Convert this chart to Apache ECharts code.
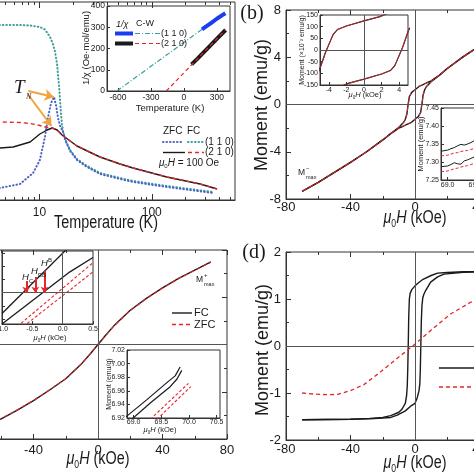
<!DOCTYPE html>
<html>
<head>
<meta charset="utf-8">
<script src="https://cdn.jsdelivr.net/npm/echarts@6/dist/echarts.min.js"></script>
<style>
  html, body { margin: 0; padding: 0; background: #fff; }
  #chart { width: 474px; height: 474px; }
</style>
</head>
<body>
<div id="chart"></div>
<script>
// ---------- (a) 磁化率-温度 (对数温度轴, 纵轴任意单位) ----------
const aFc110T  = [2, 4.47, 6.73, 8.27, 10.1, 11.2, 12.45, 13.2, 13.8, 14.4, 14.65, 15.0, 15.3, 15.6, 15.9, 16.25, 16.95, 18.75, 21.6, 26.6, 34.6, 52.2, 68.2, 136, 350];
const aFc110V  = [175, 175, 175, 174.5, 173, 170.5, 163, 156, 148, 135, 125, 112, 98, 85, 75, 69, 61, 50, 41, 34, 27, 22, 19, 14, 8];
const aZfc110T = [2, 4.47, 6.73, 8.79, 10.1, 11.2, 11.95, 12.7, 13.5, 14.1, 14.65, 15.3, 16.25, 16.95, 18.75, 21.6, 26.6, 34.6, 52.2, 68.2, 136, 350];
const aZfc110V = [11, 12, 16, 27, 40, 63, 83, 97, 103, 94, 82, 74, 68, 60, 49, 40, 33, 26, 21, 18, 13, 7];
const aZfc210T = [2, 4.47, 5.84, 8.27, 10.1, 11.7, 13.0, 14.4, 15.9, 21.6, 34.6, 52.2, 68.2, 136, 269, 381];
const aZfc210V = [52, 52, 53, 58, 66, 70, 72, 70, 65, 54, 43, 36, 32, 23, 16, 11];
const aFc210T  = [2, 4.47, 6.73, 8.27, 10.1, 11.7, 13.0, 14.4, 15.9, 21.6, 34.6, 52.2, 68.2, 136, 269, 381];
const aFc210V  = [78, 78, 77.5, 76.5, 74.5, 72.5, 72, 70, 65, 54, 43, 36, 32, 23, 16, 11];
const aMajorT  = [10, 100];
const aMinorT  = [2, 3, 4, 5, 6, 7, 8, 9, 20, 30, 40, 50, 60, 70, 80, 90, 200, 300, 400, 500];
// (a) 插图: 1/χ 与居里-外斯拟合
const aiBlueT  = [165, 200, 250, 300, 350, 378];
const aiBlueV  = [290, 303, 321, 340, 357, 366];
const aiTealT  = [-610, 165];
const aiTealV  = [0, 290];
const aiBlackT = [70, 120, 200, 300, 380];
const aiBlackV = [125, 150, 192, 245, 287];
const aiRedT   = [-160, 380];
const aiRedV   = [0, 288];
const aiTicksX = [-600, -300, 0, 300];

// ---------- (b) 磁滞回线 ----------
const bUpH = [70, 60, 50, 40, 30, 20, 15, 10, 7, 5, 2.5, 2, 0, -2, -3, -3.5, -4, -4.4, -5, -6, -7, -10, -15, -20, -30, -40, -50, -60, -70];
const bUpM = [7.35, 6.65, 5.8, 4.95, 4.05, 3.05, 2.47, 2.0, 1.82, 1.68, 1.53, 1.43, 1.25, 1.03, 0.88, 0.67, 0.23, -0.13, -0.78, -1.25, -1.5, -1.92, -2.45, -3.0, -4.0, -4.9, -5.75, -6.6, -7.35];
const bDnH = [-70, -60, -50, -40, -30, -20, -15, -10, -7, -5, -2.5, -2, 0, 2, 3, 3.5, 4, 4.4, 5, 6, 7, 10, 15, 20, 30, 40, 50, 60, 70];
const bDnM = [-7.35, -6.6, -5.75, -4.9, -4.0, -3.0, -2.47, -2.0, -1.82, -1.68, -1.54, -1.45, -1.25, -1.03, -0.88, -0.67, -0.23, 0.13, 0.78, 1.25, 1.5, 1.92, 2.45, 3.05, 4.05, 4.95, 5.8, 6.65, 7.35];
// (b) 左上插图 (×10^-2 emu/g)
const b1UpH = [-5.2, -5, -4.4, -4, -3.5, -3, -2, 0, 1.8, 2.5, 3];
const b1UpM = [-95, -78, -13, 23, 67, 88, 103, 125, 143, 154, 160];
const b1DnH = [-3, -2.5, -1.8, 0, 2, 3, 3.5, 4, 4.4, 5, 5.2];
const b1DnM = [-160, -154, -143, -125, -103, -88, -67, -23, 13, 78, 95];
const b1TicksX = [-4, -2, 0, 2, 4];
// (b) 右侧插图 (高场端)
const b2H     = [68.88, 69.0, 69.06, 69.12, 69.18, 69.24, 69.3, 69.36, 69.42, 69.48, 69.54, 69.6];
const b2BkUpM = [7.330, 7.333, 7.337, 7.340, 7.345, 7.349, 7.347, 7.350, 7.354, 7.359, 7.360, 7.362];
const b2BkLoM = [7.287, 7.289, 7.293, 7.298, 7.295, 7.294, 7.303, 7.306, 7.310, 7.314, 7.321, 7.324];
const b2RdUpM = [7.317, 7.319, 7.322, 7.325, 7.326, 7.329, 7.331, 7.332, 7.335, 7.337, 7.338, 7.341];
const b2RdLoM = [7.273, 7.275, 7.278, 7.281, 7.283, 7.286, 7.288, 7.290, 7.293, 7.296, 7.298, 7.301];
const b2TicksX = [69.0, 69.5, 70.0, 70.5];
const b2TicksY = [7.25, 7.30, 7.35, 7.40, 7.45];

// ---------- (c) FC / ZFC ----------
const cH    = [-70, -60, -50, -40, -30, -20, -10, -5, 0, 5, 10, 20, 30, 40, 50, 60, 70];
const cFcM  = [-6.99, -6.3, -5.55, -4.75, -3.85, -2.9, -1.6, -0.82, 0, 0.82, 1.6, 2.9, 3.9, 4.8, 5.6, 6.3, 6.99];
const cZfcM = [-6.97, -6.28, -5.53, -4.73, -3.84, -2.89, -1.6, -0.82, -0.01, 0.8, 1.58, 2.88, 3.88, 4.78, 5.58, 6.28, 6.96];
// (c) 左上插图 (低场)
const c1BkAH = [-1.0, 0.08];       const c1BkAM = [-0.08, 0.17];
const c1BkBH = [-1.0, 0.12, 0.5];  const c1BkBM = [-0.12, 0.08, 0.135];
const c1RdAH = [-0.75, 0.5];       const c1RdAM = [-0.13, 0.115];
const c1RdBH = [-0.65, 0.5];       const c1RdBM = [-0.13, 0.08];
const c1ArrowH = [-0.6, -0.45, -0.3];
const c1ArrowTail = [0.045, 0.06, 0.085];
const c1TicksX = [-1.0, -0.5, 0.0, 0.5];
// (c) 右下插图 (高场)
const c2BkAH = [68.85, 68.91, 69.24, 69.6, 69.75, 69.84];  const c2BkAM = [6.921, 6.925, 6.947, 6.972, 6.982, 6.995];
const c2BkBH = [68.95, 69.3, 69.66, 69.78, 69.87];         const c2BkBM = [6.917, 6.942, 6.966, 6.977, 6.99];
const c2RdAH = [69.3, 69.99];                              const c2RdAM = [6.918, 6.971];
const c2RdBH = [69.42, 70.03];                             const c2RdBM = [6.918, 6.966];
const c2TicksY = [6.92, 6.94, 6.96, 6.98, 7.00, 7.02];

// ---------- (d) ----------
const dUpH = [70, 50, 30, 20, 14, 10, 5, 2, 0, -2, -3, -3.5, -3.9, -4.2, -4.5, -4.8, -5.2, -6, -8, -10, -15, -20, -28, -40, -55, -70];
const dUpM = [1.59, 1.585, 1.58, 1.565, 1.55, 1.5, 1.42, 1.34, 1.28, 1.2, 1.12, 1.0, 0.6, 0.0, -0.5, -0.85, -1.05, -1.22, -1.34, -1.41, -1.48, -1.52, -1.54, -1.56, -1.565, -1.57];
const dDnH = [-70, -55, -40, -28, -15, -11, -6, -2.7, 0, 1.4, 2.5, 3.0, 3.3, 3.6, 3.9, 4.3, 4.8, 5.5, 6.6, 9.7, 14, 18, 30, 48, 70];
const dDnM = [-1.57, -1.565, -1.56, -1.55, -1.52, -1.47, -1.38, -1.28, -1.22, -1.1, -0.95, -0.8, -0.5, 0.0, 0.5, 0.85, 1.02, 1.1, 1.18, 1.36, 1.47, 1.53, 1.57, 1.585, 1.59];
const dRedH = [-70, -62, -55, -48, -40, -31.6, -21.3, -11, 0, 9.7, 22, 34.5, 45, 55, 62, 70];
const dRedM = [-1.0, -1.025, -1.035, -1.03, -0.95, -0.82, -0.55, -0.26, 0.04, 0.33, 0.68, 0.93, 1.02, 1.04, 1.03, 1.02];

// ---------- 样式 ----------
const SANS = 'Liberation Sans';
const SERIF = 'Liberation Serif';
const INK = '#1a1a1a';
const RED = '#e3262b';
const TEAL = '#3a9c9c';
const BLUE = '#4a62c8';
const BLUE2 = '#1c3cf2';
const ORANGE = '#f2a23c';
const ZERO = '#555';
const DOT = [0.5, 3];
const DASH = [4, 3];
const DASHDOT = [5, 2, 1, 2];

function zip(xs, ys) { return xs.map((x, i) => [x, ys[i]]); }
function merge(a, b) {
    const out = Object.assign({}, a);
    for (const k in b) {
        const v = b[k];
        if (v && typeof v === 'object' && !Array.isArray(v) && a[k] && typeof a[k] === 'object' && !Array.isArray(a[k])) {
            out[k] = merge(a[k], v);
        } else {
            out[k] = v;
        }
    }
    return out;
}

const grids = [], xAxes = [], yAxes = [], series = [], gfx = [];

function addGrid(rect) {
    grids.push(merge({ show: true, borderColor: '#333', borderWidth: 1, backgroundColor: 'transparent', containLabel: false, outerBoundsMode: 'none' }, rect));
    return grids.length - 1;
}
function mkAxis(gridIndex, position, type, min, max, o) {
    const base = {
        gridIndex, position, type, min, max, silent: true,
        axisLine: { show: true, onZero: false, lineStyle: { color: '#333', width: 1 } },
        axisTick: { show: true, inside: true, length: 5, lineStyle: { color: '#333', width: 1 } },
        minorTick: { show: false },
        axisLabel: { show: true, color: INK, fontSize: 12, fontFamily: SANS, margin: 4 },
        splitLine: { show: false },
        axisPointer: { show: false }
    };
    return merge(base, o || {});
}
function pushX(a) { xAxes.push(a); return xAxes.length - 1; }
function pushY(a) { yAxes.push(a); return yAxes.length - 1; }

function addLine(p, xs, ys, color, width, dash, extra) {
    series.push(merge({
        type: 'line', xAxisIndex: p.x, yAxisIndex: p.y, data: zip(xs, ys),
        showSymbol: false, symbol: 'none', silent: true, animation: false, clip: true,
        lineStyle: { color, width, type: dash || 'solid', cap: dash === DOT ? 'round' : 'butt' },
        emphasis: { disabled: true }
    }, extra || {}));
    return series[series.length - 1];
}
function zeroLines(s) {
    s.markLine = {
        silent: true, symbol: 'none', animation: false, label: { show: false },
        lineStyle: { color: ZERO, width: 1, type: 'solid' }, emphasis: { disabled: true },
        data: [{ xAxis: 0 }, { yAxis: 0 }]
    };
}
function txt(x, y, text, font, o) {
    return merge({
        type: 'text', x, y, silent: true, z: 100,
        style: { text, font, fill: INK, align: 'left', verticalAlign: 'middle', textAlign: 'left', textVerticalAlign: 'middle' }
    }, o || {});
}
function ctxt(x, y, text, font, o) {
    return txt(x, y, text, font, merge({ style: { align: 'center', textAlign: 'center' } }, o || {}));
}
function seg(x1, y1, x2, y2, color, width, dash) {
    return { type: 'line', silent: true, z: 100, shape: { x1, y1, x2, y2 },
        style: { stroke: color, lineWidth: width, lineDash: dash || null, lineCap: dash === DOT ? 'round' : 'butt' } };
}
// μ0H 富文本
function muH(size, tail) {
    const t = { fontSize: size, fontFamily: SANS, lineHeight: size, verticalAlign: 'top', fill: INK, color: INK };
    return {
        text: '{i|μ}{s|0}{i|H}{n|' + tail + '}',
        rich: {
            i: merge(t, { fontStyle: 'italic' }),
            n: t,
            s: merge(t, { fontSize: size * 0.6, lineHeight: size * 0.6, padding: [size * 0.55, 0, 0, 0] })
        }
    };
}
function richTxt(x, y, r, o) {
    return merge({ type: 'text', x, y, silent: true, z: 100,
        style: { text: r.text, rich: r.rich, align: 'center', verticalAlign: 'middle', textAlign: 'center', textVerticalAlign: 'middle' } }, o || {});
}

// ================= (a) 主图 =================
const gA = addGrid({ left: -73, top: 2, width: 308, height: 198 });
const pA = {
    x: pushX(mkAxis(gA, 'bottom', 'log', 1, 550, { logBase: 10, axisTick: { customValues: aMajorT, length: 6 }, axisLabel: { customValues: aMajorT, margin: 7 } })),
    y: pushY(mkAxis(gA, 'left', 'value', 0, 198, { show: false }))
};
pushX(mkAxis(gA, 'top', 'log', 1, 550, { logBase: 10, axisLine: { show: false }, axisTick: { customValues: aMajorT, length: 6 }, axisLabel: { show: false } }));
const gA2 = addGrid({ left: -73, top: 2, width: 308, height: 198, show: false });
pushX(mkAxis(gA2, 'bottom', 'log', 1, 550, { logBase: 10, axisLine: { show: false }, axisTick: { customValues: aMinorT, length: 3 }, axisLabel: { show: false } }));
pushX(mkAxis(gA2, 'top', 'log', 1, 550, { logBase: 10, axisLine: { show: false }, axisTick: { customValues: aMinorT, length: 3 }, axisLabel: { show: false } }));
pushY(mkAxis(gA2, 'left', 'value', 0, 1, { show: false }));

addLine(pA, aFc110T, aFc110V, TEAL, 2, DOT);
addLine(pA, aZfc110T, aZfc110V, BLUE, 2, DOT);
addLine(pA, aZfc210T, aZfc210V, INK, 1.4);
const aRed = addLine(pA, aFc210T, aFc210V, RED, 1.4, DASH);
aRed.markLine = {
    silent: true, symbol: ['none', 'arrow'], symbolSize: 9, animation: false, label: { show: false },
    lineStyle: { color: ORANGE, width: 2, type: 'solid' }, emphasis: { disabled: true },
    data: [
        [{ coord: [7.98, 109] }, { coord: [13.4, 103] }],
        [{ coord: [7.98, 105] }, { coord: [12.8, 74] }]
    ]
};

// (a) 插图
const gAi = addGrid({ left: 107, top: 6, width: 123, height: 85, backgroundColor: '#fff' });
const pAi = {
    x: pushX(mkAxis(gAi, 'bottom', 'value', -700, 420, { axisTick: { customValues: aiTicksX, length: 3 }, axisLabel: { customValues: aiTicksX, fontSize: 8.5, margin: 2 } })),
    y: pushY(mkAxis(gAi, 'left', 'value', 0, 400, { interval: 100, axisTick: { length: 3 }, axisLabel: { fontSize: 8.5, margin: 2 } }))
};
addLine(pAi, aiTealT, aiTealV, TEAL, 1.2, DASHDOT);
addLine(pAi, aiBlueT, aiBlueV, BLUE2, 4);
addLine(pAi, aiBlackT, aiBlackV, INK, 4);
addLine(pAi, aiRedT, aiRedV, RED, 1.2, DASH);

// ================= (b) =================
const gB = addGrid({ left: 286, top: 10, width: 258, height: 189 });
const pB = {
    x: pushX(mkAxis(gB, 'bottom', 'value', -80, 80, { interval: 40, minorTick: { show: true, splitNumber: 2, length: 3 }, axisLabel: { fontSize: 13, margin: 2 } })),
    y: pushY(mkAxis(gB, 'left', 'value', -8, 8, { interval: 4, minorTick: { show: true, splitNumber: 2, length: 3 }, axisLabel: { fontSize: 13, margin: 5 } }))
};
pushX(mkAxis(gB, 'top', 'value', -80, 80, { interval: 40, axisLine: { show: false }, axisLabel: { show: false }, minorTick: { show: true, splitNumber: 2, length: 3 } }));
zeroLines(addLine(pB, bUpH, bUpM, INK, 1.4));
addLine(pB, bDnH, bDnM, INK, 1.4);
addLine(pB, bUpH, bUpM, RED, 1, DASH);
addLine(pB, bDnH, bDnM, RED, 1, DASH);

const gB1 = addGrid({ left: 320, top: 15, width: 88, height: 70, backgroundColor: '#fff' });
const pB1 = {
    x: pushX(mkAxis(gB1, 'bottom', 'value', -5, 5, { axisTick: { customValues: b1TicksX, length: 3 }, axisLabel: { customValues: b1TicksX, fontSize: 7, margin: 2 } })),
    y: pushY(mkAxis(gB1, 'left', 'value', -150, 150, { interval: 50, axisTick: { length: 3 }, axisLabel: { fontSize: 7, margin: 2 } }))
};
zeroLines(addLine(pB1, b1UpH, b1UpM, INK, 1.2));
addLine(pB1, b1DnH, b1DnM, INK, 1.2);
addLine(pB1, b1UpH, b1UpM, '#c0282c', 0.9);
addLine(pB1, b1DnH, b1DnM, '#c0282c', 0.9);

const gB2 = addGrid({ left: 441, top: 108, width: 93, height: 72, backgroundColor: '#fff' });
const pB2 = {
    x: pushX(mkAxis(gB2, 'bottom', 'value', 68.88, 70.56, { axisTick: { customValues: b2TicksX, length: 3 }, axisLabel: { customValues: b2TicksX, fontSize: 7, margin: 2, formatter: v => (+v).toFixed(1) } })),
    y: pushY(mkAxis(gB2, 'left', 'value', 7.25, 7.45, { axisTick: { customValues: b2TicksY, length: 3 }, axisLabel: { customValues: b2TicksY, fontSize: 7, margin: 2, formatter: v => (+v).toFixed(2) } }))
};
addLine(pB2, b2H, b2BkUpM, INK, 1);
addLine(pB2, b2H, b2BkLoM, INK, 1);
addLine(pB2, b2H, b2RdUpM, RED, 1, [3, 2]);
addLine(pB2, b2H, b2RdLoM, RED, 1, [3, 2]);

// ================= (c) =================
const gC = addGrid({ left: -31, top: 250, width: 258, height: 189 });
const pC = {
    x: pushX(mkAxis(gC, 'bottom', 'value', -80, 80, { interval: 40, minorTick: { show: true, splitNumber: 2, length: 3 }, axisLabel: { fontSize: 13, margin: 5 } })),
    y: pushY(mkAxis(gC, 'left', 'value', -8, 8, { interval: 4, minorTick: { show: true, splitNumber: 2, length: 3 }, axisLabel: { fontSize: 13 } }))
};
pushX(mkAxis(gC, 'top', 'value', -80, 80, { interval: 40, axisLine: { show: false }, axisLabel: { show: false }, minorTick: { show: true, splitNumber: 2, length: 3 } }));
pushY(mkAxis(gC, 'right', 'value', -8, 8, { interval: 4, axisLine: { show: false }, axisLabel: { show: false }, minorTick: { show: true, splitNumber: 2, length: 3 } }));
zeroLines(addLine(pC, cH, cFcM, INK, 1.4));
addLine(pC, cH, cZfcM, RED, 1.2, DASH);

const gC1 = addGrid({ left: 2, top: 251, width: 91, height: 73, backgroundColor: '#fff' });
const pC1 = {
    x: pushX(mkAxis(gC1, 'bottom', 'value', -1, 0.5, { axisTick: { customValues: c1TicksX, length: 3 }, axisLabel: { customValues: c1TicksX, fontSize: 7, margin: 2, formatter: v => (+v).toFixed(1) } })),
    y: pushY(mkAxis(gC1, 'left', 'value', -0.12, 0.16, { axisTick: { customValues: [-0.1, -0.05, 0, 0.05, 0.1, 0.15], length: 3 }, axisLabel: { show: false } }))
};
zeroLines(addLine(pC1, c1BkAH, c1BkAM, INK, 1.3));
addLine(pC1, c1BkBH, c1BkBM, INK, 1.3);
addLine(pC1, c1RdAH, c1RdAM, RED, 1.1, [3, 2]);
const c1r = addLine(pC1, c1RdBH, c1RdBM, RED, 1.1, [3, 2]);
c1r.markLine = {
    silent: true, symbol: ['none', 'arrow'], symbolSize: 6, animation: false, label: { show: false },
    lineStyle: { color: RED, width: 2, type: 'solid' }, emphasis: { disabled: true },
    data: c1ArrowH.map((h, i) => [{ coord: [h, c1ArrowTail[i]] }, { coord: [h, 0] }])
};

const gC2 = addGrid({ left: 127, top: 350, width: 93, height: 68, backgroundColor: '#fff' });
const pC2 = {
    x: pushX(mkAxis(gC2, 'bottom', 'value', 68.88, 70.56, { axisTick: { customValues: b2TicksX, length: 3 }, axisLabel: { customValues: b2TicksX, fontSize: 7, margin: 1, formatter: v => (+v).toFixed(1) } })),
    y: pushY(mkAxis(gC2, 'left', 'value', 6.92, 7.02, { axisTick: { customValues: c2TicksY, length: 3 }, axisLabel: { customValues: c2TicksY, fontSize: 7, margin: 2, formatter: v => (+v).toFixed(2) } }))
};
addLine(pC2, c2BkAH, c2BkAM, INK, 1.2);
addLine(pC2, c2BkBH, c2BkBM, INK, 1.2);
addLine(pC2, c2RdAH, c2RdAM, RED, 1.1, [3, 2]);
addLine(pC2, c2RdBH, c2RdBM, RED, 1.1, [3, 2]);

// ================= (d) =================
const gD = addGrid({ left: 286, top: 252, width: 258, height: 188 });
const pD = {
    x: pushX(mkAxis(gD, 'bottom', 'value', -80, 80, { interval: 40, minorTick: { show: true, splitNumber: 2, length: 3 }, axisLabel: { fontSize: 13, margin: 3 } })),
    y: pushY(mkAxis(gD, 'left', 'value', -2, 2, { interval: 1, minorTick: { show: true, splitNumber: 2, length: 3 }, axisLabel: { fontSize: 13, margin: 5 } }))
};
pushX(mkAxis(gD, 'top', 'value', -80, 80, { interval: 40, axisLine: { show: false }, axisLabel: { show: false }, minorTick: { show: true, splitNumber: 2, length: 3 } }));
zeroLines(addLine(pD, dUpH, dUpM, INK, 1.4));
addLine(pD, dDnH, dDnM, INK, 1.4);
addLine(pD, dRedH, dRedM, RED, 1.3, DASH);

// ================= 文字与图例 =================
const F = (size, style, fam) => (style ? style + ' ' : '') + size + 'px "' + (fam || SANS) + '"';
// (a)
gfx.push(ctxt(106, 223, 'Temperature (K)', F(18), { scaleX: 0.8 }));
gfx.push(txt(14, 88, 'T', F(19, 'italic', SERIF)));
gfx.push(txt(26, 97, 'N', F(8, 'italic', SERIF)));
gfx.push(txt(163, 131, 'ZFC', F(10)));
gfx.push(txt(187, 131, 'FC', F(10)));
gfx.push(seg(163, 142, 184, 142, BLUE, 2, DOT));
gfx.push(seg(188, 142, 204, 142, TEAL, 2, DOT));
gfx.push(txt(205, 142, '(1 1 0)', F(10)));
gfx.push(seg(163, 152.5, 185, 152.5, INK, 1.4));
gfx.push(seg(188, 152.5, 204, 152.5, RED, 1.4, DASH));
gfx.push(txt(205, 152.5, '(2 1 0)', F(10)));
gfx.push(richTxt(189, 163, muH(10, ' = 100 Oe')));
// (a) 插图
gfx.push(ctxt(170, 108, 'Temperature (K)', F(9.5)));
gfx.push(ctxt(86, 48, '1/χ (Oe·mol/emu)', F(9.5), { rotation: Math.PI / 2 }));
gfx.push(txt(116, 24, '1/χ', F(9, 'italic')));
gfx.push(txt(136, 24, 'C-W', F(9)));
gfx.push(seg(115, 33.5, 133, 33.5, BLUE2, 4));
gfx.push(seg(135, 33.5, 160, 33.5, TEAL, 1.2, DASHDOT));
gfx.push(txt(161, 33.5, '(1 1 0)', F(9)));
gfx.push(seg(115, 43.5, 133, 43.5, INK, 4));
gfx.push(seg(135, 43.5, 160, 43.5, RED, 1.2, DASH));
gfx.push(txt(161, 43.5, '(2 1 0)', F(9)));
// (b)
gfx.push(ctxt(252, 14, '(b)', F(20, '', SERIF)));
gfx.push(ctxt(262, 105, 'Moment (emu/g)', F(18), { rotation: Math.PI / 2 }));
gfx.push(richTxt(415, 218, muH(18, ' (kOe)'), { scaleX: 0.8 }));
gfx.push(txt(298, 173, 'M', F(8.5)));
gfx.push(txt(306, 177, 'max', F(5.5)));
gfx.push(txt(306, 168, '−', F(6)));
gfx.push(ctxt(302, 50, 'Moment (×10⁻² emu/g)', F(7), { rotation: Math.PI / 2 }));
gfx.push(richTxt(365, 95, muH(7.5, ' (kOe)')));
gfx.push(ctxt(421, 144, 'Moment (emu/g)', F(7.5), { rotation: Math.PI / 2 }));
// (c)
gfx.push(richTxt(98, 459, muH(18, ' (kOe)'), { scaleX: 0.8 }));
gfx.push(txt(196, 280, 'M', F(8.5)));
gfx.push(txt(204, 284, 'max', F(5.5)));
gfx.push(txt(204, 275, '+', F(6)));
gfx.push(seg(172, 313, 192, 313, INK, 1.4));
gfx.push(txt(194, 313, 'FC', F(11)));
gfx.push(seg(172, 324.5, 192, 324.5, RED, 1.3, DASH));
gfx.push(txt(194, 324.5, 'ZFC', F(11)));
gfx.push(richTxt(50, 338, muH(7.5, ' (kOe)')));
gfx.push(txt(22, 277, 'H', F(9.5, 'italic')));
gfx.push(txt(29, 281, 'C', F(6)));
gfx.push(txt(31, 271, 'H', F(9.5, 'italic')));
gfx.push(txt(38, 275, 'EB', F(6)));
gfx.push(txt(41, 263, 'H', F(9.5, 'italic')));
gfx.push(txt(48, 260, 'B', F(6)));
gfx.push(ctxt(109, 384, 'Moment (emu/g)', F(7), { rotation: Math.PI / 2 }));
gfx.push(richTxt(160, 430, muH(7.5, ' (kOe)')));
// (d)
gfx.push(ctxt(254, 253, '(d)', F(20, '', SERIF)));
gfx.push(ctxt(263, 350, 'Moment (emu/g)', F(18), { rotation: Math.PI / 2 }));
gfx.push(richTxt(415, 463, muH(18, ' (kOe)'), { scaleX: 0.8 }));
gfx.push(seg(439, 368, 480, 368, INK, 1.4));
gfx.push(seg(439, 387, 480, 387, RED, 1.3, DASH));

const option = {
    animation: false,
    backgroundColor: '#fff',
    tooltip: { show: false },
    grid: grids,
    xAxis: xAxes,
    yAxis: yAxes,
    series: series,
    graphic: { elements: gfx }
};

const chart = echarts.init(document.getElementById('chart'), null, { renderer: 'canvas' });
chart.setOption(option);
</script>
</body>
</html>
